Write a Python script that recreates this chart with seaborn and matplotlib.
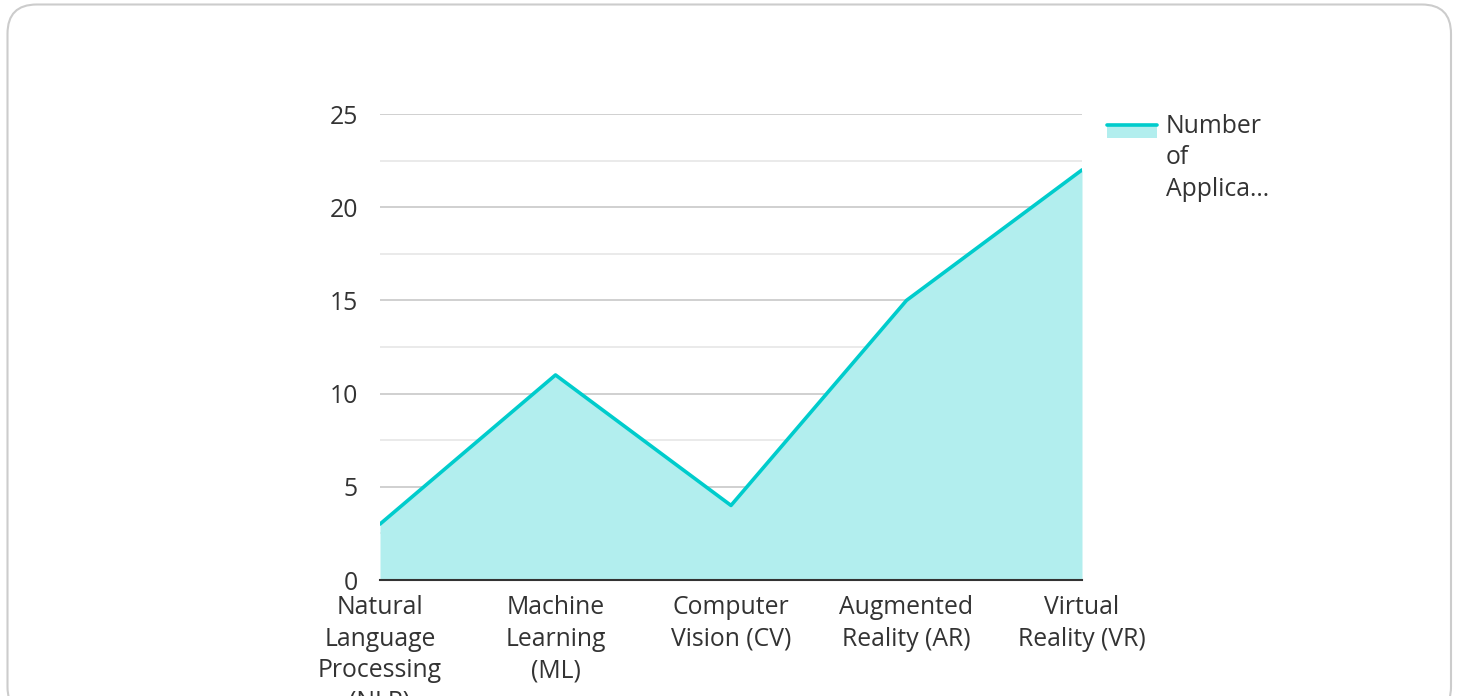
import matplotlib
matplotlib.use("Agg")
import matplotlib.pyplot as plt
import seaborn as sns
import pandas as pd
import numpy as np
from matplotlib.patches import FancyBboxPatch, Rectangle
from matplotlib.lines import Line2D

categories = ["Natural\nLanguage\nProcessing\n(NLP)", "Machine\nLearning\n(ML)",
              "Computer\nVision (CV)", "Augmented\nReality (AR)", "Virtual\nReality (VR)"]
values = [3, 11, 4, 15, 22]
series_name = "Number\nof\nApplica…"
y_ticks = [0, 5, 10, 15, 20, 25]

LINE = "#00CCCC"
FILL = "#B2EEEE"
TXT = "#333333"
FS = 17.8

sns.set_theme(style="white")
plt.rcParams['font.family'] = ['Open Sans', 'Noto Sans', 'DejaVu Sans']

W, H = 1458, 696
fig = plt.figure(figsize=(W/100, H/100), dpi=100)
ax = fig.add_axes([380/W, 1-580/H, (1082-380)/W, (580-114)/H])

# card
card = FancyBboxPatch((7.5/W, -20/H), (1451-7.5)/W, (H-4.5+20)/H,
                      boxstyle="round,pad=0,rounding_size=0.02",
                      transform=fig.transFigure, facecolor="white",
                      edgecolor="#CCCCCC", linewidth=1.5, zorder=-10,
                      mutation_aspect=W/H)
fig.patches.append(card)

df = pd.DataFrame({"cat": np.arange(len(categories)), "val": values})
ax.fill_between(df["cat"], df["val"], 0, color=FILL, linewidth=0, zorder=2)
sns.lineplot(data=df, x="cat", y="val", ax=ax, color=LINE, linewidth=2.6, zorder=3)

ax.set_xlim(0, len(categories)-1)
ax.set_ylim(0, 25)
ax.set_yticks(y_ticks)
ax.set_yticks([2.5, 7.5, 12.5, 17.5, 22.5], minor=True)
ax.grid(axis="y", which="major", color="#C8C8C8", linewidth=1.2, zorder=1)
ax.grid(axis="y", which="minor", color="#E6E6E6", linewidth=1.2, zorder=1)
ax.set_xticks(df["cat"])
ax.set_xticklabels(categories, linespacing=1.34)
ax.tick_params(axis="x", length=0, pad=11, labelsize=FS, labelcolor=TXT)
ax.tick_params(axis="y", length=0, pad=16, labelsize=FS, labelcolor=TXT, which="both")
for lab in ax.get_yticklabels():
    lab.set_verticalalignment("center_baseline")
for s in ["top", "right", "left"]:
    ax.spines[s].set_visible(False)
ax.spines["bottom"].set_color(TXT)
ax.spines["bottom"].set_linewidth(1.5)
ax.spines["bottom"].set_zorder(4)
ax.set_xlabel("")
ax.set_ylabel("")
ax.set_facecolor("none")

# legend
fig.patches.append(Rectangle((1107/W, 1-138/H), 50/W, 13/H, transform=fig.transFigure,
                             facecolor=FILL, edgecolor="none"))
fig.lines.append(Line2D([1107/W, 1157/W], [1-125/H, 1-125/H], transform=fig.transFigure,
                        color=LINE, linewidth=2.6))
fig.text(1166/W, 1-114/H, series_name, ha="left", va="top", fontsize=FS,
         color=TXT, linespacing=1.34)

fig.savefig("out.png", dpi=100)
